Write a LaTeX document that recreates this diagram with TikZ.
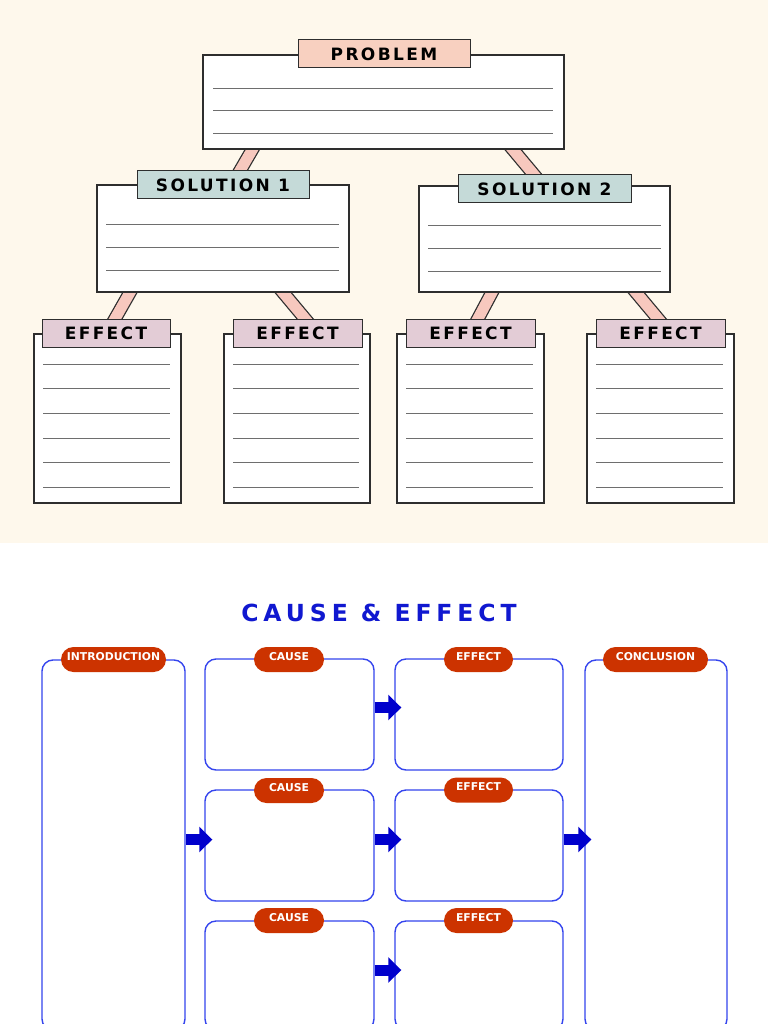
\documentclass[tikz,border=0pt]{standalone}
\usepackage{fontspec}
\setmainfont{DejaVu Sans}
\newfontfamily\labfont{DejaVu Sans Bold}[LetterSpace=14]
\newfontfamily\titlefont{DejaVu Sans Bold}[LetterSpace=21]
\newfontfamily\pillfont{DejaVu Sans Bold}
\usetikzlibrary{arrows.meta}
\definecolor{cream}{HTML}{FEF8EC}
\definecolor{inkc}{HTML}{2E2E2E}
\definecolor{rulec}{HTML}{6E6E6E}
\definecolor{probc}{HTML}{F8D0C0}
\definecolor{solc}{HTML}{C5DAD8}
\definecolor{effc}{HTML}{E3CCD6}
\definecolor{strapc}{HTML}{F7C8BE}
\definecolor{bluebox}{HTML}{3444EE}
\definecolor{bluearr}{HTML}{0000CC}
\definecolor{titlec}{HTML}{1018D0}
\definecolor{pillc}{HTML}{CC3300}
\tikzset{
  paper/.style={draw=inkc, line width=1.3pt, fill=white, inner sep=0pt},
  tab/.style={draw=inkc, line width=1pt, inner sep=0pt, minimum height=28pt, font=\labfont\fontsize{17}{17}\selectfont, text=black},
  ruled/.style={draw=rulec, line width=1.2pt},
  strapout/.style={draw=inkc, line width=13.5pt},
  strapin/.style={draw=strapc, line width=11pt},
  bbox/.style={draw=bluebox, line width=1.4pt, fill=white, rounded corners=11pt, inner sep=0pt},
  pill/.style={fill=pillc, rounded corners=12.5pt, minimum height=25pt, inner sep=0pt, text=white, font=\pillfont\fontsize{10.8}{10.8}\selectfont},
  bigarrow/.style={draw=bluearr, line width=11pt, -{Triangle[length=13pt,width=25pt]}},
}
\newcommand{\pilltext}[1]{\raisebox{3pt}[\height][\depth]{#1}}
\begin{document}
\begin{tikzpicture}[x=1pt,y=-1pt]
\useasboundingbox (0,0) rectangle (768,1024);
\clip (0,0) rectangle (768,1024);
\fill[cream] (0,0) rectangle (768,543);
\fill[white] (0,543) rectangle (768,1024);

% ---------- top: problem / solution tree ----------
\node[paper, minimum width=361pt, minimum height=94pt] (prob) at (383.5,102) {};
\node[paper, minimum width=252pt, minimum height=107pt] (s1) at (223,238.5) {};
\node[paper, minimum width=251pt, minimum height=106pt] (s2) at (544.5,239) {};
\node[paper, minimum width=147pt, minimum height=169pt] (e1) at (107.5,418.5) {};
\node[paper, minimum width=146pt, minimum height=169pt] (e2) at (297,418.5) {};
\node[paper, minimum width=147pt, minimum height=169pt] (e3) at (470.5,418.5) {};
\node[paper, minimum width=147pt, minimum height=169pt] (e4) at (660.5,418.5) {};

\node[tab, fill=probc, minimum width=172pt] (problab) at (384,54) {PROBLEM};
\node[tab, fill=solc, minimum width=172pt] (s1lab) at (223,185) {SOLUTION 1};
\node[tab, fill=solc, minimum width=173pt] (s2lab) at (544.5,189) {SOLUTION 2};
\node[tab, fill=effc, minimum width=128pt] (e1lab) at (106,333) {EFFECT};
\node[tab, fill=effc, minimum width=129pt] (e2lab) at (297.5,333) {EFFECT};
\node[tab, fill=effc, minimum width=129pt] (e3lab) at (470.5,333) {EFFECT};
\node[tab, fill=effc, minimum width=129pt] (e4lab) at (660.5,333) {EFFECT};

% straps
\foreach \a/\ax/\ay/\b/\bx/\by in {
  prob.south/-126/9/s1lab.north/11.9/-9,
  prob.south/122/9/s2lab.north/-4/-8,
  s1.south/-88.6/8/e1lab.north/4.6/-8,
  s1.south/53.5/8/e2lab.north/14/-8,
  s2.south/-48.4/8/e3lab.north/3.3/-8,
  s2.south/85/8/e4lab.north/4/-8}{
  \draw[strapout] ([xshift=\ax pt,yshift=\ay pt]\a) -- ([xshift=\bx pt,yshift=\by pt]\b);
  \draw[strapin] ([xshift=\ax pt,yshift=\ay pt]\a) -- ([xshift=\bx pt,yshift=\by pt]\b);
}
% redraw boxes over straps
\node[paper, minimum width=361pt, minimum height=94pt] at (prob) {};
\node[paper, minimum width=252pt, minimum height=107pt] at (s1) {};
\node[paper, minimum width=251pt, minimum height=106pt] at (s2) {};
\node[paper, minimum width=147pt, minimum height=169pt] at (e1) {};
\node[paper, minimum width=146pt, minimum height=169pt] at (e2) {};
\node[paper, minimum width=147pt, minimum height=169pt] at (e3) {};
\node[paper, minimum width=147pt, minimum height=169pt] at (e4) {};

% ruled lines
\foreach \d in {34,56,79}{
  \draw[ruled] ([xshift=11pt,yshift=-\d pt]prob.north west) -- ([xshift=-12pt,yshift=-\d pt]prob.north east);}
\foreach \d in {40,63,86}{
  \draw[ruled] ([xshift=10pt,yshift=-\d pt]s1.north west) -- ([xshift=-11pt,yshift=-\d pt]s1.north east);
  \draw[ruled] ([xshift=10pt,yshift=-\d pt]s2.north west) -- ([xshift=-10pt,yshift=-\d pt]s2.north east);}
\foreach \n in {e1,e2,e3,e4}{
  \foreach \d in {31,55,80,105,129,154}{
    \draw[ruled] ([xshift=10pt,yshift=-\d pt]\n.north west) -- ([xshift=-12pt,yshift=-\d pt]\n.north east);}}

% labels on top
\node[tab, fill=probc, minimum width=172pt] at (problab) {PROBLEM};
\node[tab, fill=solc, minimum width=172pt] at (s1lab) {SOLUTION 1};
\node[tab, fill=solc, minimum width=173pt] at (s2lab) {SOLUTION 2};
\node[tab, fill=effc, minimum width=128pt] at (e1lab) {EFFECT};
\node[tab, fill=effc, minimum width=129pt] at (e2lab) {EFFECT};
\node[tab, fill=effc, minimum width=129pt] at (e3lab) {EFFECT};
\node[tab, fill=effc, minimum width=129pt] at (e4lab) {EFFECT};

% ---------- bottom: cause & effect ----------
\node[text=titlec, font=\titlefont\fontsize{23.5}{23.5}\selectfont, inner sep=0pt] (title) at (379,612.5) {CAUSE \& EFFECT};

\node[bbox, minimum width=143pt, minimum height=370pt] (intro) at (113.5,845) {};
\node[bbox, minimum width=169pt, minimum height=111pt] (c1) at (289.5,714.5) {};
\node[bbox, minimum width=169pt, minimum height=111pt] (c2) at (289.5,845.5) {};
\node[bbox, minimum width=169pt, minimum height=109pt] (c3) at (289.5,975.5) {};
\node[bbox, minimum width=168pt, minimum height=111pt] (f1) at (479,714.5) {};
\node[bbox, minimum width=168pt, minimum height=111pt] (f2) at (479,845.5) {};
\node[bbox, minimum width=168pt, minimum height=109pt] (f3) at (479,975.5) {};
\node[bbox, minimum width=142pt, minimum height=370pt] (concl) at (656,845) {};

\node[pill, minimum width=105pt] (intropill) at (113.5,659.5) {\pilltext{INTRODUCTION}};
\node[pill, minimum width=70pt] (c1pill) at (289,659.5) {\pilltext{CAUSE}};
\node[pill, minimum width=70pt] (c2pill) at (289,790.5) {\pilltext{CAUSE}};
\node[pill, minimum width=70pt] (c3pill) at (289,920.5) {\pilltext{CAUSE}};
\node[pill, minimum width=69pt] (f1pill) at (478.5,659.5) {\pilltext{EFFECT}};
\node[pill, minimum width=69pt] (f2pill) at (478.5,790) {\pilltext{EFFECT}};
\node[pill, minimum width=69pt] (f3pill) at (478.5,920.5) {\pilltext{EFFECT}};
\node[pill, minimum width=105pt] (conclpill) at (655.5,659.5) {\pilltext{CONCLUSION}};

\draw[bigarrow, shorten >=-7pt] ([yshift=7pt]c1.east) -- ([yshift=7pt]f1.west);
\draw[bigarrow, shorten >=-7pt] ([yshift=6pt]c2.east) -- ([yshift=6pt]f2.west);
\draw[bigarrow, shorten >=-7pt] ([yshift=5.5pt]c3.east) -- ([yshift=5.5pt]f3.west);
\draw[bigarrow, shorten >=-8pt] ([yshift=5.5pt]intro.east) -- ([yshift=5.5pt]intro.east -| c2.west);
\draw[bigarrow, shorten >=-7pt] ([yshift=6pt]f2.east) -- ([yshift=6pt]f2.east -| concl.west);
\end{tikzpicture}
\end{document}
